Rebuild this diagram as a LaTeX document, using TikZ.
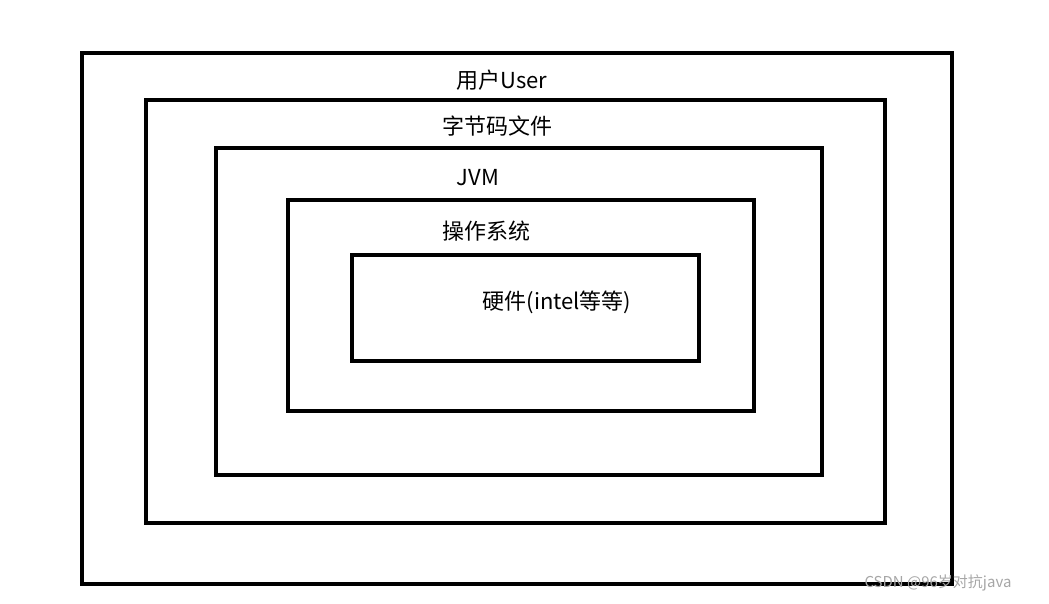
\documentclass[tikz,border=0pt]{standalone}
\usepackage{fontspec}
\newfontfamily\cjk{Noto Sans CJK SC}
\usetikzlibrary{positioning}
\tikzset{
    layerbox/.style={draw=black, line width=3.5pt},
    layerlabel/.style={font=\cjk\fontsize{22}{26}\selectfont, inner sep=0pt},
    markfont/.style={font=\cjk\fontsize{15}{18}\selectfont, text=black!35, inner sep=0pt}
}
\begin{document}
\begin{tikzpicture}[x=1pt, y=-1pt]
    \useasboundingbox (0,0) rectangle (1049,604);
    % nested layers, outermost first
    \draw[layerbox] (82,53) rectangle (952,584);
    \draw[layerbox] (146,100) rectangle (885,523);
    \draw[layerbox] (216,148) rectangle (822,475);
    \draw[layerbox] (288,200) rectangle (754,411);
    \draw[layerbox] (352,255) rectangle (699,361);

    \node[layerlabel] (user) at (502,80) {用户User};
    \node[layerlabel] (bytecode) at (497,126) {字节码文件};
    \node[layerlabel] (jvm) at (478,178) {JVM};
    \node[layerlabel] (os) at (486,231) {操作系统};
    \node[layerlabel] (hw) at (557,302) {硬件(intel等等)};

    \node[markfont] (mark) at (938,583) {CSDN @96岁对抗java};
\end{tikzpicture}
\end{document}
